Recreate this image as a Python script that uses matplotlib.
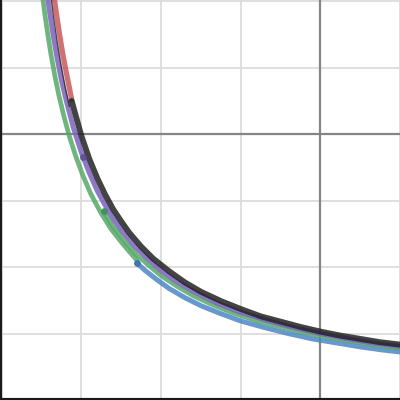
import numpy as np
from matplotlib import pyplot as plt

# curves (data units)
red_x = [-3.35, -3.32, -3.28, -3.24, -3.20, -3.16, -3.12]
red_y = [2.15, 1.88, 1.56, 1.26, 1.00, 0.76, 0.52]

black_top_x = [-3.39, -3.35, -3.30, -3.25, -3.20, -3.15]
black_top_y = [2.16, 1.78, 1.37, 1.01, 0.70, 0.42]

black_x = [-3.12, -3.0, -2.9, -2.8, -2.7, -2.6, -2.5, -2.4, -2.25, -2.1, -1.9, -1.7,
           -1.5, -1.25, -1.0, -0.75, -0.5, -0.25, 0.0, 0.25, 0.5, 0.75, 1.03]
black_y = [0.50, -0.02, -0.37, -0.66, -0.91, -1.13, -1.31, -1.48, -1.69, -1.87, -2.06, -2.23,
           -2.37, -2.51, -2.63, -2.74, -2.82, -2.90, -2.97, -3.03, -3.08, -3.13, -3.17]

purple_x = [-3.44, -3.40, -3.35, -3.30, -3.25, -3.20, -3.10, -3.0, -2.9, -2.8, -2.7, -2.6, -2.5,
            -2.35, -2.2, -2.0, -1.8, -1.6, -1.3, -1.0, -0.7, -0.4, 0.0, 0.3, 0.65, 1.03]
purple_y = [2.21, 1.86, 1.47, 1.13, 0.82, 0.56, 0.10, -0.27, -0.58, -0.85, -1.07, -1.27, -1.44,
            -1.66, -1.84, -2.05, -2.22, -2.36, -2.54, -2.68, -2.79, -2.89, -3.00, -3.07, -3.14, -3.20]
purple_dot = (-2.98, -0.34)

green_a_x = [-3.50, -3.46, -3.42, -3.38, -3.33, -3.28, -3.22, -3.15, -3.07, -2.98, -2.88,
             -2.76, -2.63, -2.50, -2.38, -2.30]
green_a_y = [2.21, 1.83, 1.50, 1.20, 0.87, 0.58, 0.28, -0.03, -0.33, -0.62, -0.90,
             -1.17, -1.42, -1.62, -1.79, -1.90]

green_b_x = [-2.72, -2.6, -2.45, -2.3, -2.15, -2.0, -1.8, -1.6, -1.35, -1.1, -0.8, -0.5,
             -0.2, 0.1, 0.4, 0.7, 1.03]
green_b_y = [-1.16, -1.39, -1.62, -1.82, -1.98, -2.13, -2.29, -2.43, -2.57, -2.69, -2.81, -2.90,
             -2.99, -3.06, -3.12, -3.18, -3.23]

blue_x = [-2.30, -2.2, -2.05, -1.9, -1.7, -1.5, -1.25, -1.0, -0.7, -0.4, -0.1, 0.2, 0.5, 0.8, 1.03]
blue_y = [-1.94, -2.05, -2.19, -2.32, -2.46, -2.58, -2.70, -2.81, -2.91, -3.00, -3.08, -3.14,
          -3.20, -3.25, -3.28]

fig = plt.figure(figsize=(4, 4), dpi=100)
ax = fig.add_axes([0, 0, 1, 1])

# grid and axis lines
ax.set_xticks(np.arange(-4, 2))
ax.set_yticks(np.arange(-4, 3))
ax.grid(True, color='#dcdcdc', lw=1.3, zorder=0)
ax.set_axisbelow(True)
ax.axhline(0, color='#858585', lw=1.6, zorder=1)
ax.axvline(0, color='#858585', lw=1.6, zorder=1)

ax.plot(green_a_x, green_a_y, color='#55A868', lw=3.4, alpha=0.85, solid_capstyle='round', zorder=3)
ax.plot(blue_x, blue_y, color='#4C86C6', lw=3.6, alpha=0.85, solid_capstyle='round', zorder=3)
ax.plot(green_b_x, green_b_y, color='#55A868', lw=3.2, alpha=0.85, solid_capstyle='round', zorder=3)
ax.plot(purple_x, purple_y, color='#7C62BE', lw=3.6, alpha=0.85, solid_capstyle='round', zorder=3)
ax.plot(red_x, red_y, color='#C44E52', lw=3.8, alpha=0.8, solid_capstyle='round', zorder=3)
ax.plot(black_top_x, black_top_y, color='#222222', lw=1.0, alpha=0.8, zorder=3)
ax.plot(black_x, black_y, color='#222222', lw=4.2, alpha=0.85, solid_capstyle='round', zorder=3)

# start dots
ax.plot(blue_x[0], blue_y[0], 'o', color='#3a6fa8', ms=4, alpha=0.8, zorder=4)
ax.plot(green_b_x[0], green_b_y[0], 'o', color='#3f8a58', ms=4, alpha=0.8, zorder=4)
ax.plot(purple_dot[0], purple_dot[1], 'o', color='#5b4c92', ms=4, alpha=0.8, zorder=4)

ax.set_xlim(-4.02, 1.0)
ax.set_ylim(-4.0, 2.02)
ax.tick_params(length=0, labelbottom=False, labelleft=False)
for side in ['top', 'right']:
    ax.spines[side].set_visible(False)
for side in ['left', 'bottom']:
    ax.spines[side].set_linewidth(3)
    ax.spines[side].set_color('#1a1a1a')

plt.savefig('out.png', dpi=100)
